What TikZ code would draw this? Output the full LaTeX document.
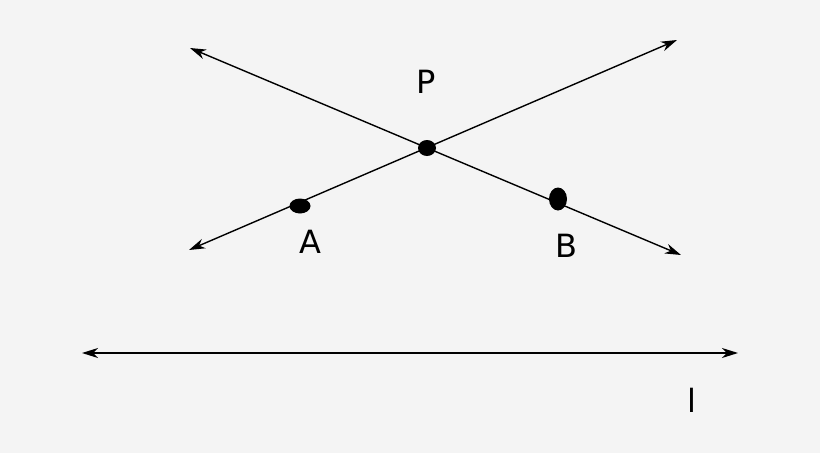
\documentclass[tikz,border=0pt]{standalone}
\usepackage{fontspec}
\setmainfont{DejaVu Sans}
\usetikzlibrary{arrows.meta}
\begin{document}
\begin{tikzpicture}[x=1pt,y=-1pt,
  ln/.style={line width=1.4pt,{Stealth[length=16pt,width=10pt,inset=5pt]}-{Stealth[length=16pt,width=10pt,inset=5pt]}},
  lbl/.style={font=\fontsize{32}{36}\selectfont}]
\fill[fill={rgb,255:red,244;green,244;blue,244}] (0,0) rectangle (820,453);
\useasboundingbox (0,0) rectangle (820,453);
\coordinate (a1) at (190,48); \coordinate (a2) at (681,255);
\coordinate (b1) at (189,250); \coordinate (b2) at (677,40);
\coordinate (c1) at (82,353); \coordinate (c2) at (738,353);
\draw[ln] (a1) -- (a2);
\draw[ln] (b1) -- (b2);
\draw[ln] (c1) -- (c2);
\fill (427,148) ellipse (9 and 8);
\fill (300,206) ellipse (10.5 and 7.5);
\fill (558,199) ellipse (9 and 11.5);
\node[lbl] (P) at (426,82) {P};
\node[lbl] (A) at (310,242) {A};
\node[lbl] (B) at (566,246) {B};
\node[lbl] (l) at (692,400) {l};
\end{tikzpicture}
\end{document}
